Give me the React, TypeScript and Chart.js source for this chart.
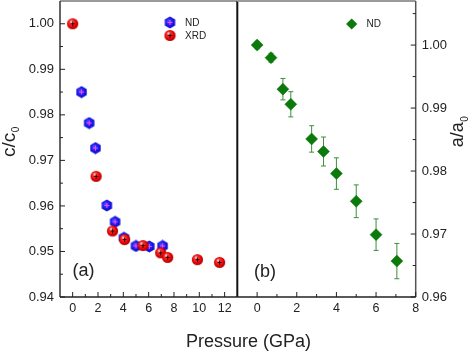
import React, { useEffect, useRef } from 'react';
import { Chart, registerables } from 'chart.js';
Chart.register(...registerables);

// ---- data ----
const ndPressureC = [0.7, 1.3, 1.8, 2.7, 3.35, 4.05, 5.0, 6.05, 7.1];
const ndC = [0.985, 0.9782, 0.9727, 0.9601, 0.9565, 0.953, 0.9512, 0.9511, 0.9512];
const xrdPressure = [0, 1.85, 3.15, 4.1, 5.55, 6.95, 7.5, 9.85, 11.6];
const xrdC = [1.0, 0.9665, 0.9545, 0.9526, 0.9513, 0.9497, 0.9487, 0.9482, 0.9476];
const ndPressureA = [0, 0.7, 1.3, 1.7, 2.75, 3.35, 4.0, 5.0, 6.0, 7.05];
const ndA = [1.0, 0.998, 0.993, 0.9906, 0.9851, 0.9831, 0.9796, 0.9752, 0.9699, 0.9657];
const ndAErr = [0.0006, 0.0007, 0.0017, 0.002, 0.0021, 0.0023, 0.0025, 0.0026, 0.0025, 0.0028];

const leftXTicks = [0, 2, 4, 6, 8, 10, 12];
const leftXMinor = [1, 3, 5, 7, 9, 11];
const leftYTicks = [0.94, 0.95, 0.96, 0.97, 0.98, 0.99, 1.0];
const leftYMinor = [0.945, 0.955, 0.965, 0.975, 0.985, 0.995];
const rightXTicks = [0, 2, 4, 6, 8];
const rightXMinor = [1, 3, 5, 7];
const rightYTicks = [0.96, 0.97, 0.98, 0.99, 1.0];
const rightYMinor = [0.965, 0.975, 0.985, 0.995, 1.005];

const FONT = '"Liberation Sans", Arial, Helvetica, sans-serif';
const TEXT = '#222';

function makeHexagon(): HTMLCanvasElement {
  const c = document.createElement('canvas');
  c.width = 13; c.height = 13;
  const g = c.getContext('2d')!;
  const cx = 6.5, cy = 6.5, r = 6;
  g.beginPath();
  for (let i = 0; i < 6; i++) {
    const a = -Math.PI / 2 + (i * Math.PI) / 3;
    const px = cx + r * Math.cos(a), py = cy + r * Math.sin(a);
    if (i === 0) g.moveTo(px, py); else g.lineTo(px, py);
  }
  g.closePath();
  const grad = g.createRadialGradient(5, 5, 0.5, 6.5, 6.5, 6.5);
  grad.addColorStop(0, '#4a4aff');
  grad.addColorStop(0.6, '#1414e8');
  grad.addColorStop(1, '#0a0ab4');
  g.fillStyle = grad;
  g.fill();
  g.strokeStyle = '#ff44ff';
  g.lineWidth = 1;
  g.beginPath();
  g.moveTo(6.5, 4); g.lineTo(6.5, 9);
  g.moveTo(4, 6.5); g.lineTo(9, 6.5);
  g.stroke();
  return c;
}

function makeSphere(): HTMLCanvasElement {
  const c = document.createElement('canvas');
  c.width = 13; c.height = 13;
  const g = c.getContext('2d')!;
  g.beginPath();
  g.arc(6.5, 6.5, 5.6, 0, Math.PI * 2);
  const grad = g.createRadialGradient(4.8, 4.2, 0.3, 6.5, 6.5, 6.2);
  grad.addColorStop(0, '#ffe0e0');
  grad.addColorStop(0.25, '#ff3a3a');
  grad.addColorStop(0.7, '#e00000');
  grad.addColorStop(1, '#9a0000');
  g.fillStyle = grad;
  g.fill();
  g.strokeStyle = '#2a0000';
  g.lineWidth = 1;
  g.beginPath();
  g.moveTo(6.5, 4.5); g.lineTo(6.5, 9);
  g.moveTo(4.5, 6.5); g.lineTo(8.5, 6.5);
  g.stroke();
  return c;
}

function line(ctx: CanvasRenderingContext2D, x1: number, y1: number, x2: number, y2: number, color: string, w: number) {
  ctx.strokeStyle = color;
  ctx.lineWidth = w;
  ctx.beginPath();
  ctx.moveTo(x1, y1);
  ctx.lineTo(x2, y2);
  ctx.stroke();
}

function drawXTicks(ctx: CanvasRenderingContext2D, scale: any, bottom: number, majors: number[], minors: number[]) {
  majors.forEach(v => { const x = scale.getPixelForValue(v); line(ctx, x, bottom, x, bottom - 5, '#222', 1); });
  minors.forEach(v => { const x = scale.getPixelForValue(v); line(ctx, x, bottom, x, bottom - 3, '#222', 1); });
}

function drawYTicks(ctx: CanvasRenderingContext2D, scale: any, xAxis: number, dir: number, majors: number[], minors: number[]) {
  majors.forEach(v => { const y = scale.getPixelForValue(v); line(ctx, xAxis, y, xAxis + dir * 5, y, '#222', 1); });
  minors.forEach(v => { const y = scale.getPixelForValue(v); line(ctx, xAxis, y, xAxis + dir * 3, y, '#222', 1); });
}

function drawSubLabel(ctx: CanvasRenderingContext2D, main: string, sub: string, cx: number, cy: number, mainSize: number, subSize: number, subDrop: number) {
  ctx.save();
  ctx.translate(cx, cy);
  ctx.rotate(-Math.PI / 2);
  ctx.fillStyle = TEXT;
  ctx.textBaseline = 'alphabetic';
  ctx.textAlign = 'left';
  ctx.font = `${mainSize}px ${FONT}`;
  const mw = ctx.measureText(main).width;
  ctx.font = `${subSize}px ${FONT}`;
  const sw = ctx.measureText(sub).width;
  const start = -(mw + sw) / 2;
  ctx.font = `${mainSize}px ${FONT}`;
  ctx.fillText(main, start, 0);
  ctx.font = `${subSize}px ${FONT}`;
  ctx.fillText(sub, start + mw + 0.5, subDrop);
  ctx.restore();
}

const noPadX = (h: number) => (s: any) => { s.height = h; s.paddingLeft = 0; s.paddingRight = 0; s.paddingTop = 0; s.paddingBottom = 0; };
const noPadY = (w: number) => (s: any) => { s.width = w; s.paddingLeft = 0; s.paddingRight = 0; s.paddingTop = 0; s.paddingBottom = 0; };

export default function App() {
  const leftRef = useRef<HTMLCanvasElement>(null);
  const rightRef = useRef<HTMLCanvasElement>(null);

  useEffect(() => {
    if (!leftRef.current || !rightRef.current) return;
    const hex = makeHexagon();
    const sphere = makeSphere();

    const leftPlugin = {
      id: 'leftDecor',
      afterDraw(chart: any) {
        const ctx = chart.ctx as CanvasRenderingContext2D;
        const a = chart.chartArea;
        const sx = chart.scales.x, sy = chart.scales.y;
        ctx.save();
        line(ctx, a.left, a.top, a.right, a.top, '#9a9a9a', 2);
        line(ctx, a.left, a.top, a.left, a.bottom, '#333', 1.5);
        line(ctx, a.left, a.bottom, a.right, a.bottom, '#222', 1.5);
        line(ctx, a.right, a.top, a.right, a.bottom, '#111', 2);
        drawXTicks(ctx, sx, a.bottom, leftXTicks, leftXMinor);
        drawYTicks(ctx, sy, a.left, 1, leftYTicks, leftYMinor);
        // legend
        ctx.drawImage(hex, 170 - 6.5, 22.5 - 6.5);
        ctx.drawImage(sphere, 170 - 6.5, 35.5 - 6.5);
        ctx.fillStyle = TEXT;
        ctx.font = `10px ${FONT}`;
        ctx.textAlign = 'left';
        ctx.textBaseline = 'middle';
        ctx.fillText('ND', 185, 23);
        ctx.fillText('XRD', 185, 36);
        // panel label
        ctx.font = `18px ${FONT}`;
        ctx.fillText('(a)', 72.5, 271);
        ctx.restore();
        drawSubLabel(ctx, 'c/c', '0', 14.5, 142, 19, 10, 4.5);
      },
    };

    const rightPlugin = {
      id: 'rightDecor',
      beforeDatasetsDraw(chart: any) {
        const ctx = chart.ctx as CanvasRenderingContext2D;
        const sx = chart.scales.x, sy = chart.scales.y;
        ctx.save();
        ndPressureA.forEach((p, i) => {
          const x = sx.getPixelForValue(p);
          const y1 = sy.getPixelForValue(ndA[i] + ndAErr[i]);
          const y2 = sy.getPixelForValue(ndA[i] - ndAErr[i]);
          line(ctx, x, y1, x, y2, '#3d8f3d', 1);
          line(ctx, x - 2.5, y1, x + 2.5, y1, '#3d8f3d', 1);
          line(ctx, x - 2.5, y2, x + 2.5, y2, '#3d8f3d', 1);
        });
        ctx.restore();
      },
      afterDraw(chart: any) {
        const ctx = chart.ctx as CanvasRenderingContext2D;
        const a = chart.chartArea;
        const sx = chart.scales.x, sy = chart.scales.y;
        ctx.save();
        line(ctx, a.left, a.top, a.right, a.top, '#9a9a9a', 2);
        line(ctx, a.right, a.top, a.right, a.bottom, '#555', 1.5);
        line(ctx, a.left, a.bottom, a.right, a.bottom, '#222', 1.5);
        drawXTicks(ctx, sx, a.bottom, rightXTicks, rightXMinor);
        drawYTicks(ctx, sy, a.right, -1, rightYTicks, rightYMinor);
        // legend
        const lx = 351.7, ly = 24, r = 5.6;
        ctx.fillStyle = '#0b7a0b';
        ctx.beginPath();
        ctx.moveTo(lx, ly - r); ctx.lineTo(lx + r, ly); ctx.lineTo(lx, ly + r); ctx.lineTo(lx - r, ly);
        ctx.closePath();
        ctx.fill();
        ctx.fillStyle = TEXT;
        ctx.font = `10px ${FONT}`;
        ctx.textAlign = 'left';
        ctx.textBaseline = 'middle';
        ctx.fillText('ND', 366.5, 24.5);
        ctx.font = `18px ${FONT}`;
        ctx.fillText('(b)', 254, 272);
        // shared x title
        ctx.textAlign = 'center';
        ctx.textBaseline = 'alphabetic';
        ctx.fillText('Pressure (GPa)', 248.5, 346.5);
        ctx.restore();
        drawSubLabel(ctx, 'a/a', '0', 463, 132, 18, 10, 4.5);
      },
    };

    const tickFont = { family: FONT, size: 12.5 };

    const left = new Chart(leftRef.current, {
      type: 'scatter',
      data: {
        datasets: [
          {
            label: 'XRD',
            data: xrdPressure.map((p, i) => ({ x: p, y: xrdC[i] })),
            pointStyle: sphere as any,
            pointRadius: 6,
          },
          {
            label: 'ND',
            data: ndPressureC.map((p, i) => ({ x: p, y: ndC[i] })),
            pointStyle: hex as any,
            pointRadius: 6,
          },
        ],
      },
      options: {
        responsive: false,
        animation: false,
        events: [],
        layout: { autoPadding: false, padding: { left: 0, top: 1, right: 474 - 237.3, bottom: 0 } },
        plugins: { legend: { display: false }, tooltip: { enabled: false } },
        scales: {
          x: {
            type: 'linear',
            min: -1,
            max: 13,
            grid: { display: false, drawTicks: false },
            border: { display: false },
            ticks: { color: TEXT, font: tickFont, padding: 4, autoSkip: false, maxRotation: 0 },
            afterBuildTicks: (s: any) => { s.ticks = leftXTicks.map(v => ({ value: v })); },
            afterFit: noPadX(54),
          },
          y: {
            type: 'linear',
            min: 0.94,
            max: 1.005,
            grid: { display: false, drawTicks: false },
            border: { display: false },
            ticks: { color: TEXT, font: { family: FONT, size: 13 }, padding: 6, autoSkip: false, callback: (v: any) => Number(v).toFixed(2) },
            afterBuildTicks: (s: any) => { s.ticks = leftYTicks.map(v => ({ value: v })); },
            afterFit: noPadY(60),
          },
        },
      },
      plugins: [leftPlugin],
    } as any);

    const right = new Chart(rightRef.current, {
      type: 'scatter',
      data: {
        datasets: [
          {
            label: 'ND',
            data: ndPressureA.map((p, i) => ({ x: p, y: ndA[i] })),
            pointStyle: 'rectRot',
            pointRadius: 6,
            backgroundColor: '#0b7a0b',
            borderColor: '#0b7a0b',
            borderWidth: 0.5,
          },
        ],
      },
      options: {
        responsive: false,
        animation: false,
        events: [],
        layout: { autoPadding: false, padding: { left: 237.3, top: 1, right: 0, bottom: 0 } },
        plugins: { legend: { display: false }, tooltip: { enabled: false } },
        scales: {
          x: {
            type: 'linear',
            min: -1,
            max: 8,
            grid: { display: false, drawTicks: false },
            border: { display: false },
            ticks: { color: TEXT, font: tickFont, padding: 4, autoSkip: false, maxRotation: 0 },
            afterBuildTicks: (s: any) => { s.ticks = rightXTicks.map(v => ({ value: v })); },
            afterFit: noPadX(54),
          },
          y: {
            type: 'linear',
            position: 'right',
            min: 0.96,
            max: 1.007,
            grid: { display: false, drawTicks: false },
            border: { display: false },
            ticks: { color: TEXT, font: { family: FONT, size: 13 }, padding: 6, autoSkip: false, callback: (v: any) => Number(v).toFixed(2) },
            afterBuildTicks: (s: any) => { s.ticks = rightYTicks.map(v => ({ value: v })); },
            afterFit: noPadY(474 - 415.7),
          },
        },
      },
      plugins: [rightPlugin],
    } as any);

    return () => {
      left.destroy();
      right.destroy();
    };
  }, []);

  return (
    <div style={{ position: 'absolute', left: 0, top: 0, width: 474, height: 351, background: '#fff' }}>
      <canvas ref={leftRef} width={474} height={351} style={{ position: 'absolute', left: 0, top: 0, width: 474, height: 351 }} />
      <canvas ref={rightRef} width={474} height={351} style={{ position: 'absolute', left: 0, top: 0, width: 474, height: 351 }} />
    </div>
  );
}
